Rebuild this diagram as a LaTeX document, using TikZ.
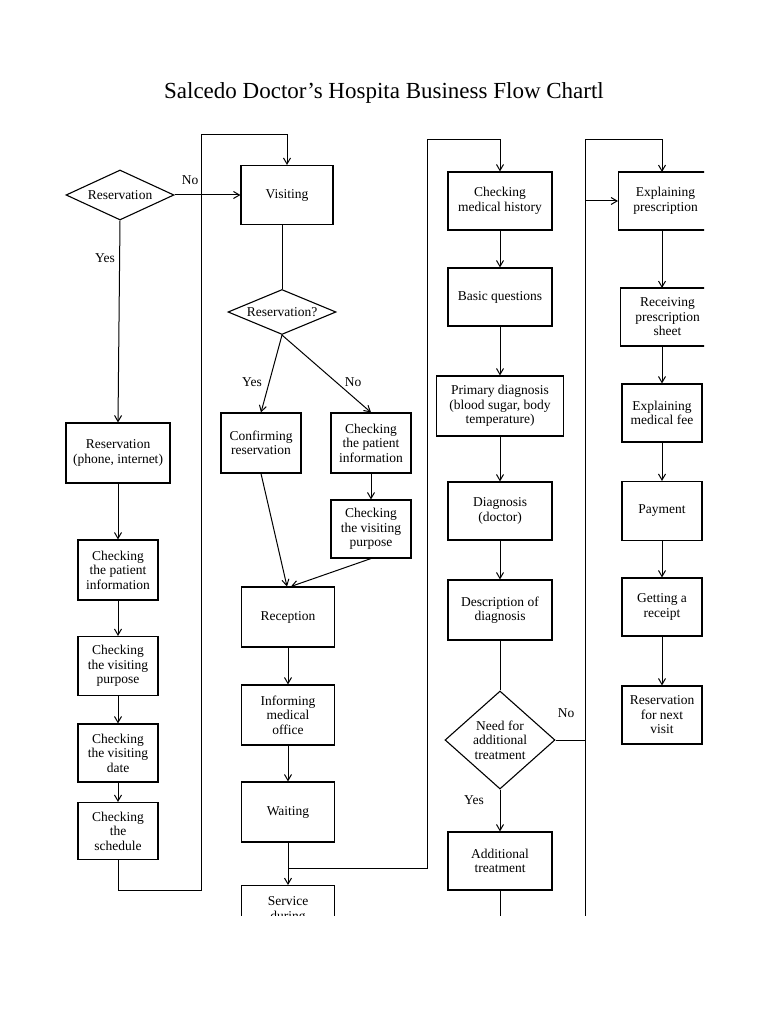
\documentclass[tikz,border=0pt]{standalone}
\usepackage{fontspec}
\setmainfont{Liberation Serif}
\usetikzlibrary{arrows.meta,shapes.geometric}
\begin{document}
\begin{tikzpicture}[x=1pt,y=-1pt,
  bx/.style={draw,line width=1.1pt,inner sep=1pt,align=center,font=\fontsize{13.5}{14.5}\selectfont},
  dm/.style={draw,diamond,aspect=2,line width=1.1pt,inner sep=0pt,align=center,font=\fontsize{13.5}{14.5}\selectfont},
  ar/.style={-{Straight Barb[length=6pt,width=7pt]},line width=1pt},
  ln/.style={line width=1pt},
  lb/.style={font=\fontsize{13.5}{14.5}\selectfont}]
\useasboundingbox (0,0) rectangle (768,1024);
\node[font=\fontsize{23}{26}\selectfont] (title) at (384,93) {Salcedo Doctor's Hospita Business Flow Chartl};
\begin{scope}
\clip (60,130) rectangle (704,915);
% column 1
\node[dm,minimum width=108,minimum height=50] (d1) at (120,195) {Reservation};
\node[bx,minimum width=104,minimum height=60] (r1) at (118,453) {Reservation\\(phone, internet)};
\node[bx,minimum width=80,minimum height=60] (c1) at (118,570) {Checking\\the patient\\information};
\node[bx,minimum width=80,minimum height=59] (c2) at (118,666) {Checking\\the visiting\\purpose};
\node[bx,minimum width=80,minimum height=58] (c3) at (118,753) {Checking\\the visiting\\date};
\node[bx,minimum width=80,minimum height=57] (c4) at (118,831) {Checking\\the\\schedule};
% column 2
\node[bx,minimum width=92,minimum height=59] (vis) at (287,195) {Visiting};
\node[dm,minimum width=108,minimum height=45] (d2) at (282,312) {Reservation?};
\node[bx,minimum width=80,minimum height=60] (cf) at (261,443) {Confirming\\reservation};
\node[bx,minimum width=80,minimum height=60] (cp) at (371,443) {Checking\\the patient\\information};
\node[bx,minimum width=80,minimum height=58] (cv) at (371,529) {Checking\\the visiting\\purpose};
\node[bx,minimum width=93,minimum height=60] (rec) at (288,617) {Reception};
\node[bx,minimum width=93,minimum height=60] (inf) at (288,715) {Informing\\medical\\office};
\node[bx,minimum width=93,minimum height=60] (wt) at (288,812) {Waiting};
\node[bx,minimum width=93,minimum height=60,anchor=north] (sv) at (288,885) {Service\\during\\\ };
% column 3
\node[bx,minimum width=104,minimum height=58] (mh) at (500,201) {Checking\\medical history};
\node[bx,minimum width=104,minimum height=58] (bq) at (500,297) {Basic questions};
\node[bx,minimum width=127,minimum height=60] (pd) at (500,406) {Primary diagnosis\\(blood sugar, body\\temperature)};
\node[bx,minimum width=104,minimum height=58] (dg) at (500,511) {Diagnosis\\(doctor)};
\node[bx,minimum width=104,minimum height=60] (ds) at (500,610) {Description of\\diagnosis};
\node[dm,minimum width=110,minimum height=98,aspect=1.1] (d3) at (500,740) {Need for\\additional\\treatment};
\node[bx,minimum width=104,minimum height=58] (at) at (500,861) {Additional\\treatment};
% column 4
\node[bx,minimum width=94,minimum height=58,anchor=west] (ep) at (618,201) {Explaining\\prescription\hspace{6pt}};
\node[bx,minimum width=94,minimum height=58,anchor=west] (rp) at (620,317) {Receiving\\prescription\\sheet\hspace{6pt}};
\node[bx,minimum width=80,minimum height=58] (ef) at (662,413) {Explaining\\medical fee};
\node[bx,minimum width=80,minimum height=59] (pay) at (662,511) {Payment};
\node[bx,minimum width=80,minimum height=58] (gr) at (662,607) {Getting a\\receipt};
\node[bx,minimum width=80,minimum height=58] (rn) at (662,715) {Reservation\\for next\\visit};
\coordinate (bot1) at (500,920);
\coordinate (bot2) at (585,920);
\coordinate (epc) at (662,172);
\coordinate (eps) at (662,230);
\coordinate (rpn) at (662,288);
\coordinate (rps) at (662,346);
% connectors column 1
\draw[ar] (d1.east) -- (vis.west);
\node[lb] (no1) at (190,180) {No};
\draw[ar] (d1.south) -- (r1.north);
\node[lb] (yes1) at (105,258) {Yes};
\draw[ar] (r1.south) -- (c1.north);
\draw[ar] (c1.south) -- (c2.north);
\draw[ar] (c2.south) -- (c3.north);
\draw[ar] (c3.south) -- (c4.north);
\draw[ar] (c4.south) -- ++(0,30) -| (201,135) -| (vis.north);
% column 2
\draw[ln] (vis.south -| d2.north) -- (d2.north);
\draw[ar] (d2.south) -- (cf.north);
\draw[ar] (d2.south) -- (cp.north);
\node[lb] (yes2) at (252,382) {Yes};
\node[lb] (no2) at (353,382) {No};
\draw[ar] (cp.south) -- (cv.north);
\draw[ar] (cf.south) -- ([xshift=-1pt]rec.north);
\draw[ar] (cv.south) -- ([xshift=3pt]rec.north);
\draw[ar] (rec.south) -- (inf.north);
\draw[ar] (inf.south) -- (wt.north);
\draw[ar] (wt.south) -- (sv.north);
\draw[ln] (288,868) -| (427,140) -| (500,150);
\draw[ar] (500,150) -- (mh.north);
% column 3
\draw[ar] (mh.south) -- (bq.north);
\draw[ar] (bq.south) -- (pd.north);
\draw[ar] (pd.south) -- (dg.north);
\draw[ar] (dg.south) -- (ds.north);
\draw[ln] (ds.south) -- (d3.north);
\draw[ar] (d3.south) -- (at.north);
\node[lb] (yes3) at (474,800) {Yes};
\draw[ln] (at.south) -- (bot1);
\draw[ln] (d3.east) -- (585,740);
\node[lb] (no3) at (566,713) {No};
\draw[ln] (bot2) -- (585,140) -| (662,150);
\draw[ar] (662,150) -- (epc);
\draw[ar] (585,201) -- (ep.west);
% column 4
\draw[ar] (eps) -- (rpn);
\draw[ar] (rps) -- (ef.north);
\draw[ar] (ef.south) -- (pay.north);
\draw[ar] (pay.south) -- (gr.north);
\draw[ar] (gr.south) -- (rn.north);
\end{scope}
\end{tikzpicture}
\end{document}
